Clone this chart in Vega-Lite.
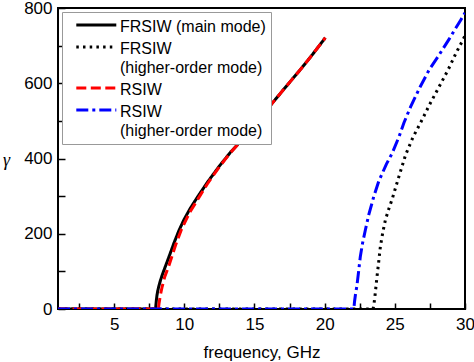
{
  "$schema": "https://vega.github.io/schema/vega-lite/v6.json",
  "width": 407,
  "height": 301,
  "autosize": {"type": "none"},
  "padding": {"left": 58, "top": 8, "right": 9, "bottom": 53},
  "background": "white",
  "config": {
    "view": {"stroke": "black", "strokeWidth": 2},
    "axis": {
      "domain": false,
      "ticks": true,
      "tickColor": "black",
      "tickWidth": 1.5,
      "grid": false,
      "labelFont": "Liberation Sans",
      "labelFontSize": 17,
      "labelColor": "black",
      "titleFont": "Liberation Sans",
      "titleFontSize": 17,
      "titleFontWeight": "normal",
      "titleColor": "black"
    },
    "legend": {
      "orient": "top-left",
      "offset": 4,
      "fillColor": "white",
      "strokeColor": "#999999",
      "strokeWidth": 1,
      "padding": 5,
      "labelFont": "Liberation Sans",
      "labelFontSize": 16,
      "labelColor": "black",
      "labelLimit": 400,
      "labelOffset": 37,
      "labelBaseline": "top",
      "symbolType": "M0.26,0L8.26,0",
      "symbolSize": 100,
      "symbolStrokeWidth": 3,
      "rowPadding": 4
    }
  },
  "data": {
    "values": [
      {"f": 1, "g": 0, "s": "FRSIW (main mode)"},
      {"f": 7.95, "g": 0, "s": "FRSIW (main mode)"},
      {"f": 7.98, "g": 12, "s": "FRSIW (main mode)"},
      {"f": 8.01, "g": 24, "s": "FRSIW (main mode)"},
      {"f": 8.05, "g": 36, "s": "FRSIW (main mode)"},
      {"f": 8.1, "g": 47, "s": "FRSIW (main mode)"},
      {"f": 8.18, "g": 60, "s": "FRSIW (main mode)"},
      {"f": 8.3, "g": 76, "s": "FRSIW (main mode)"},
      {"f": 8.45, "g": 93, "s": "FRSIW (main mode)"},
      {"f": 8.66, "g": 114, "s": "FRSIW (main mode)"},
      {"f": 8.9, "g": 138, "s": "FRSIW (main mode)"},
      {"f": 9.26, "g": 175, "s": "FRSIW (main mode)"},
      {"f": 9.6, "g": 207, "s": "FRSIW (main mode)"},
      {"f": 9.97, "g": 237, "s": "FRSIW (main mode)"},
      {"f": 10.4, "g": 266, "s": "FRSIW (main mode)"},
      {"f": 10.93, "g": 297, "s": "FRSIW (main mode)"},
      {"f": 11.65, "g": 337, "s": "FRSIW (main mode)"},
      {"f": 12.5, "g": 380, "s": "FRSIW (main mode)"},
      {"f": 13.3, "g": 417, "s": "FRSIW (main mode)"},
      {"f": 14.17, "g": 452, "s": "FRSIW (main mode)"},
      {"f": 15, "g": 490, "s": "FRSIW (main mode)"},
      {"f": 16, "g": 535, "s": "FRSIW (main mode)"},
      {"f": 17, "g": 580, "s": "FRSIW (main mode)"},
      {"f": 18.35, "g": 640, "s": "FRSIW (main mode)"},
      {"f": 19, "g": 670, "s": "FRSIW (main mode)"},
      {"f": 20.05, "g": 721, "s": "FRSIW (main mode)"},

      {"f": 1, "g": 0, "s": "FRSIW (higher-order mode)"},
      {"f": 23.45, "g": 0, "s": "FRSIW (higher-order mode)"},
      {"f": 23.52, "g": 15, "s": "FRSIW (higher-order mode)"},
      {"f": 23.6, "g": 40, "s": "FRSIW (higher-order mode)"},
      {"f": 23.73, "g": 86, "s": "FRSIW (higher-order mode)"},
      {"f": 23.85, "g": 125, "s": "FRSIW (higher-order mode)"},
      {"f": 23.97, "g": 166, "s": "FRSIW (higher-order mode)"},
      {"f": 24.15, "g": 205, "s": "FRSIW (higher-order mode)"},
      {"f": 24.33, "g": 237, "s": "FRSIW (higher-order mode)"},
      {"f": 24.57, "g": 266, "s": "FRSIW (higher-order mode)"},
      {"f": 24.81, "g": 292, "s": "FRSIW (higher-order mode)"},
      {"f": 25.29, "g": 352, "s": "FRSIW (higher-order mode)"},
      {"f": 25.77, "g": 410, "s": "FRSIW (higher-order mode)"},
      {"f": 26.3, "g": 457, "s": "FRSIW (higher-order mode)"},
      {"f": 26.97, "g": 505, "s": "FRSIW (higher-order mode)"},
      {"f": 27.5, "g": 545, "s": "FRSIW (higher-order mode)"},
      {"f": 28.16, "g": 591, "s": "FRSIW (higher-order mode)"},
      {"f": 28.8, "g": 636, "s": "FRSIW (higher-order mode)"},
      {"f": 29.36, "g": 680, "s": "FRSIW (higher-order mode)"},
      {"f": 30, "g": 726, "s": "FRSIW (higher-order mode)"},

      {"f": 1, "g": 0, "s": "RSIW"},
      {"f": 8.15, "g": 0, "s": "RSIW"},
      {"f": 8.2, "g": 15, "s": "RSIW"},
      {"f": 8.3, "g": 38, "s": "RSIW"},
      {"f": 8.42, "g": 59, "s": "RSIW"},
      {"f": 8.6, "g": 85, "s": "RSIW"},
      {"f": 8.9, "g": 115, "s": "RSIW"},
      {"f": 9.38, "g": 170, "s": "RSIW"},
      {"f": 9.8, "g": 212, "s": "RSIW"},
      {"f": 10.4, "g": 258, "s": "RSIW"},
      {"f": 11, "g": 294, "s": "RSIW"},
      {"f": 11.65, "g": 333, "s": "RSIW"},
      {"f": 12.5, "g": 378, "s": "RSIW"},
      {"f": 13.3, "g": 416, "s": "RSIW"},
      {"f": 14.17, "g": 452, "s": "RSIW"},
      {"f": 15, "g": 490, "s": "RSIW"},
      {"f": 16, "g": 535, "s": "RSIW"},
      {"f": 17, "g": 580, "s": "RSIW"},
      {"f": 18.35, "g": 640, "s": "RSIW"},
      {"f": 19, "g": 670, "s": "RSIW"},
      {"f": 20.05, "g": 721, "s": "RSIW"},

      {"f": 1, "g": 0, "s": "RSIW (higher-order mode)"},
      {"f": 22.08, "g": 0, "s": "RSIW (higher-order mode)"},
      {"f": 22.13, "g": 20, "s": "RSIW (higher-order mode)"},
      {"f": 22.2, "g": 40, "s": "RSIW (higher-order mode)"},
      {"f": 22.3, "g": 62, "s": "RSIW (higher-order mode)"},
      {"f": 22.42, "g": 100, "s": "RSIW (higher-order mode)"},
      {"f": 22.54, "g": 139, "s": "RSIW (higher-order mode)"},
      {"f": 22.7, "g": 175, "s": "RSIW (higher-order mode)"},
      {"f": 22.9, "g": 210, "s": "RSIW (higher-order mode)"},
      {"f": 23.14, "g": 250, "s": "RSIW (higher-order mode)"},
      {"f": 23.5, "g": 299, "s": "RSIW (higher-order mode)"},
      {"f": 23.86, "g": 340, "s": "RSIW (higher-order mode)"},
      {"f": 24.4, "g": 385, "s": "RSIW (higher-order mode)"},
      {"f": 24.81, "g": 414, "s": "RSIW (higher-order mode)"},
      {"f": 25.3, "g": 458, "s": "RSIW (higher-order mode)"},
      {"f": 25.65, "g": 495, "s": "RSIW (higher-order mode)"},
      {"f": 26.13, "g": 538, "s": "RSIW (higher-order mode)"},
      {"f": 26.8, "g": 590, "s": "RSIW (higher-order mode)"},
      {"f": 27.45, "g": 636, "s": "RSIW (higher-order mode)"},
      {"f": 28.1, "g": 672, "s": "RSIW (higher-order mode)"},
      {"f": 28.88, "g": 718, "s": "RSIW (higher-order mode)"},
      {"f": 29.4, "g": 750, "s": "RSIW (higher-order mode)"},
      {"f": 29.71, "g": 769, "s": "RSIW (higher-order mode)"},
      {"f": 30, "g": 787, "s": "RSIW (higher-order mode)"}
    ]
  },
  "mark": {"type": "line", "strokeWidth": 3, "clip": true},
  "encoding": {
    "x": {
      "field": "f",
      "type": "quantitative",
      "scale": {"domain": [1, 30], "nice": false, "zero": false},
      "axis": {
        "title": "frequency, GHz",
        "offset": -6,
        "values": [2.5, 5, 7.5, 10, 12.5, 15, 17.5, 20, 22.5, 25, 27.5, 30],
        "labelExpr": "datum.value % 5 === 0 ? datum.label : ''",
        "tickSize": 6,
        "labelPadding": 7,
        "labelFlush": false,
        "labelOverlap": false,
        "titlePadding": 12,
        "encode": {"ticks": {"update": {"y": {"signal": "datum.value % 5 === 0 ? 0 : 2"}}}}
      }
    },
    "y": {
      "field": "g",
      "type": "quantitative",
      "scale": {"domain": [0, 800], "nice": false},
      "axis": {
        "title": "γ",
        "offset": -7,
        "values": [0, 100, 200, 300, 400, 500, 600, 700, 800],
        "labelExpr": "datum.value % 200 === 0 ? datum.label : ''",
        "tickSize": 7,
        "labelPadding": 6,
        "labelFlush": false,
        "labelOverlap": false,
        "encode": {"ticks": {"update": {"x": {"signal": "datum.value % 200 === 0 ? 0 : -3"}}}},
        "titleAngle": 0,
        "titleFont": "Liberation Serif",
        "titleFontStyle": "italic",
        "titleFontSize": 18,
        "titleAlign": "center",
        "titleBaseline": "middle",
        "titleX": -59,
        "titleY": 152
      }
    },
    "color": {
      "field": "s",
      "type": "nominal",
      "scale": {
        "domain": ["FRSIW (main mode)", "FRSIW (higher-order mode)", "RSIW", "RSIW (higher-order mode)"],
        "range": ["black", "black", "#ff0000", "#0000ff"]
      },
      "legend": {
        "title": null,
        "labelExpr": "test(/higher/, datum.label) ? [replace(datum.label, ' (higher-order mode)', ''), '(higher-order mode)'] : datum.label",
        "encode": {"labels": {"update": {"dy": {"value": -6}, "lineHeight": {"value": 19}}}}
      }
    },
    "strokeDash": {
      "field": "s",
      "type": "nominal",
      "scale": {
        "domain": ["FRSIW (main mode)", "FRSIW (higher-order mode)", "RSIW", "RSIW (higher-order mode)"],
        "range": [[1, 0], [2.5, 4.2], [10, 4.5], [12, 4, 3, 4]]
      },
      "legend": {
        "title": null,
        "labelExpr": "test(/higher/, datum.label) ? [replace(datum.label, ' (higher-order mode)', ''), '(higher-order mode)'] : datum.label",
        "encode": {"labels": {"update": {"dy": {"value": -6}, "lineHeight": {"value": 19}}}}
      }
    }
  }
}
